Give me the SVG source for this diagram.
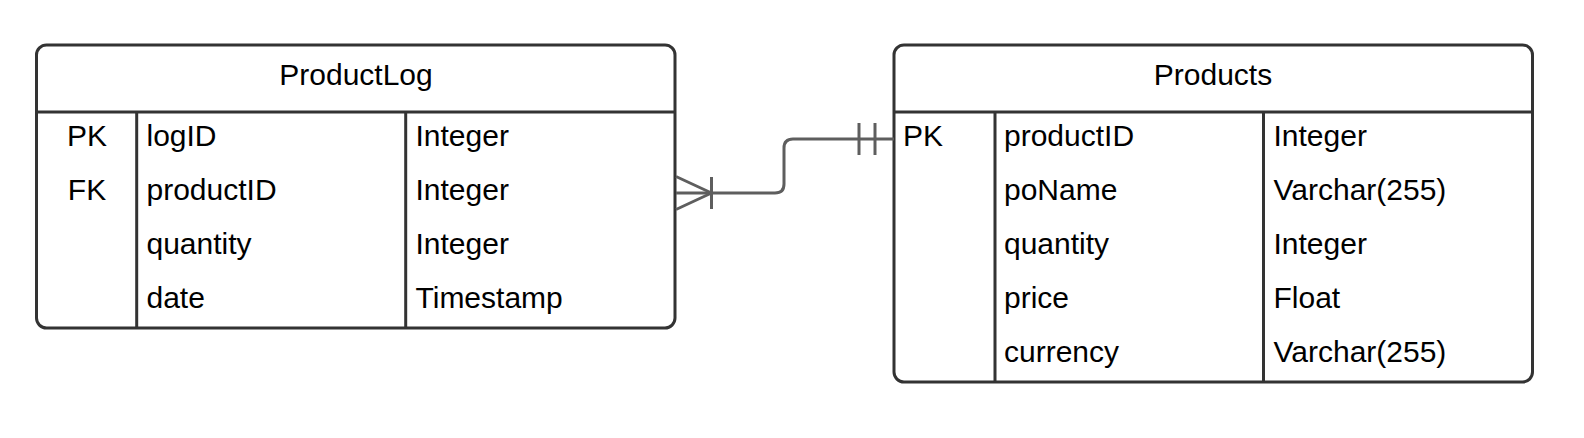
<svg xmlns="http://www.w3.org/2000/svg" width="1584" height="438" viewBox="0 0 1584 438">
<style>
.box{fill:#ffffff;stroke:#333333;stroke-width:3}
.ln{stroke:#333333;stroke-width:3;fill:none}
.t{font-family:"Liberation Sans",Arial,sans-serif;font-size:30px;fill:#000000}
.c{text-anchor:middle}
.conn{stroke:#5e5e5e;stroke-width:3;fill:none;stroke-linejoin:round}
</style>
<rect x="0" y="0" width="1584" height="438" fill="#ffffff"/>
<g id="ProductLog">
<rect class="box" x="36.5" y="45" width="638.5" height="283" rx="10" ry="10"/>
<line class="ln" x1="36.5" y1="112" x2="675" y2="112"/>
<line class="ln" x1="136.7" y1="112" x2="136.7" y2="328"/>
<line class="ln" x1="405.7" y1="112" x2="405.7" y2="328"/>
<text class="t c" x="356" y="84.5">ProductLog</text>
<text class="t c" x="87" y="146">PK</text>
<text class="t" x="146.5" y="146">logID</text>
<text class="t" x="415.5" y="146">Integer</text>
<text class="t c" x="87" y="200">FK</text>
<text class="t" x="146.5" y="200">productID</text>
<text class="t" x="415.5" y="200">Integer</text>
<text class="t" x="146.5" y="254">quantity</text>
<text class="t" x="415.5" y="254">Integer</text>
<text class="t" x="146.5" y="308">date</text>
<text class="t" x="415.5" y="308">Timestamp</text>
</g>
<g id="Products">
<rect class="box" x="894" y="45" width="638.5" height="337" rx="10" ry="10"/>
<line class="ln" x1="894" y1="112" x2="1532.5" y2="112"/>
<line class="ln" x1="995" y1="112" x2="995" y2="382"/>
<line class="ln" x1="1263.5" y1="112" x2="1263.5" y2="382"/>
<text class="t c" x="1213" y="84.5">Products</text>
<text class="t" x="903" y="146">PK</text>
<text class="t" x="1004" y="146">productID</text>
<text class="t" x="1273.5" y="146">Integer</text>
<text class="t" x="1004" y="200">poName</text>
<text class="t" x="1273.5" y="200">Varchar(255)</text>
<text class="t" x="1004" y="254">quantity</text>
<text class="t" x="1273.5" y="254">Integer</text>
<text class="t" x="1004" y="308">price</text>
<text class="t" x="1273.5" y="308">Float</text>
<text class="t" x="1004" y="362">currency</text>
<text class="t" x="1273.5" y="362">Varchar(255)</text>
</g>
<g id="connectors">
<path class="conn" d="M894 139 H793 Q784 139 784 148 V184 Q784 193 775 193 H676"/>
<path class="conn" d="M676 176.5 L711.5 193 L676 209.5"/>
<line class="conn" x1="711.5" y1="177" x2="711.5" y2="209"/>
<line class="conn" x1="859" y1="123" x2="859" y2="155"/>
<line class="conn" x1="875" y1="123" x2="875" y2="155"/>
</g>
</svg>
